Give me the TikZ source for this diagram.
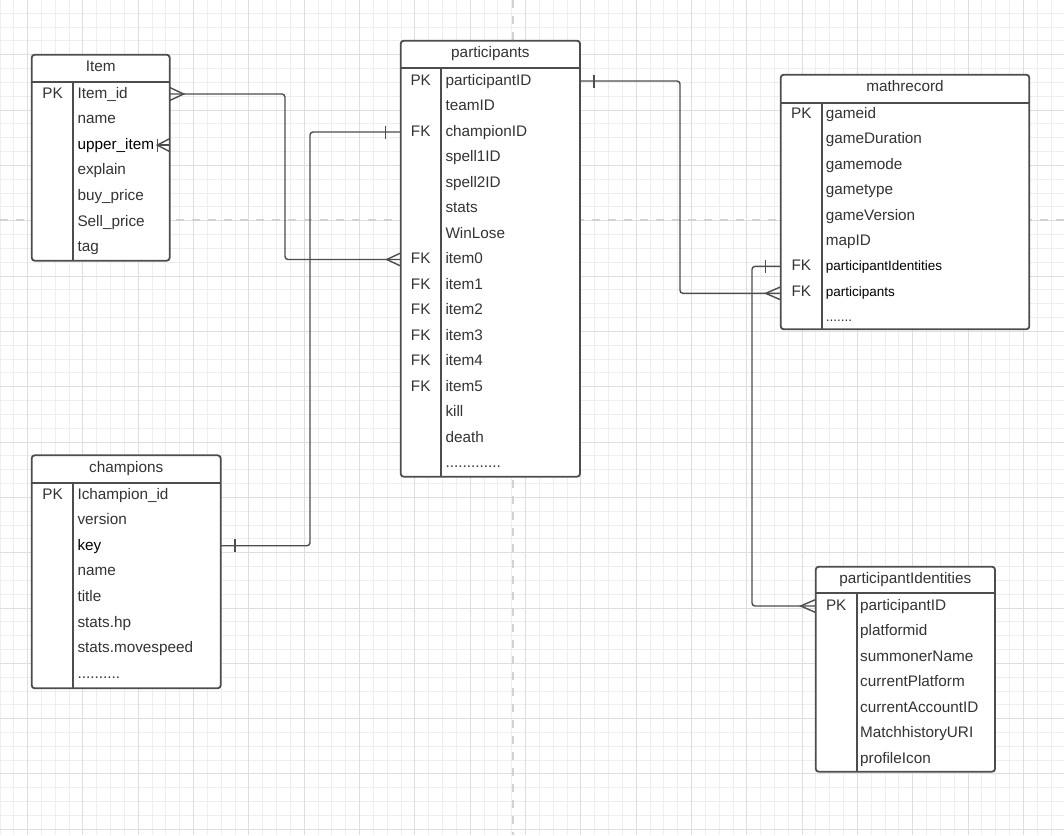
\documentclass[tikz,border=0pt]{standalone}
\usepackage{fontspec}
\setmainfont{Liberation Sans}
\definecolor{gridminor}{HTML}{EEEEEE}
\definecolor{gridmajor}{HTML}{DEDEDE}
\definecolor{pagebrk}{HTML}{D2D2D2}
\definecolor{linec}{HTML}{4D4D4D}
\definecolor{txtc}{HTML}{333333}
\tikzset{
  tbl/.style={draw=linec, line width=1.8pt, rounded corners=3pt, fill=white, outer sep=0pt, inner sep=0pt, anchor=north west},
  sepline/.style={draw=linec, line width=1.8pt},
  ttl/.style={font=\fontsize{15.3}{18}\selectfont, text=txtc, anchor=base, inner sep=0pt},
  fld/.style={font=\fontsize{15.3}{18}\selectfont, text=txtc, anchor=base west, inner sep=0pt},
  smallfld/.style={font=\fontsize{13.5}{16}\selectfont, text=black, anchor=base west, inner sep=0pt},
  keyt/.style={font=\fontsize{15.3}{18}\selectfont, text=txtc, anchor=base, inner sep=0pt},
  conn/.style={draw=linec, line width=1.4pt, rounded corners=3pt},
  cf/.style={draw=linec, line width=1.4pt},
}
\newcommand{\ertable}[8]{% name, L, T, R, H, B, D, title
  \node[tbl, minimum width=#4-#2, minimum height=#6-#3] (#1) at (#2,#3) {};
  \draw[sepline] (#2,#5) -- (#4,#5);
  \draw[sepline] (#7,#5) -- (#7,#6);
  \node[ttl] (#1-title) at ({(#2+#4)/2},#3+17) {#8};
}
\newcommand{\dotsPart}{.............}
\newcommand{\dotsChamp}{..........}
\newcommand{\dotsMath}{.......}
\begin{document}
\begin{tikzpicture}[x=1pt,y=-1pt]
\useasboundingbox (0,0) rectangle (1064,835);
\fill[white] (0,0) rectangle (1064,835);
% grid
\foreach \i in {0,...,77} { \draw[gridminor, line width=1pt] (\i*13.83,0) -- (\i*13.83,835); }
\foreach \j in {0,...,61} { \draw[gridminor, line width=1pt] (0,-0.5+\j*13.83) -- (1064,-0.5+\j*13.83); }
\foreach \i in {2,6,...,78} { \draw[gridmajor, line width=1pt] (\i*13.83,0) -- (\i*13.83,835); }
\foreach \j in {0,4,...,60} { \draw[gridmajor, line width=1pt] (0,-0.5+\j*13.83) -- (1064,-0.5+\j*13.83); }
% page breaks
\draw[pagebrk, line width=2pt, dash pattern=on 8pt off 8pt] (513.3,0) -- (513.3,835);
\draw[pagebrk, line width=2pt, dash pattern=on 8pt off 8pt] (0,220) -- (1064,220);

% ---- Item
\ertable{item}{31.7}{54.7}{169.7}{82.3}{260.7}{73.3}{Item}
\foreach \k/\t [count=\i from 0] in {PK/Item\_id, {}/name, {}/{\color{black}upper\_item}, {}/explain, {}/buy\_price, {}/Sell\_price, {}/tag}
{ \node[keyt] (item-k\i) at (52.5, 98.3+\i*25.55) {\k};
  \node[fld] (item-f\i) at (77.3, 98.3+\i*25.55) {\t};
  \coordinate (item-c\i) at (100, 94+\i*25.55); }

% ---- participants
\ertable{part}{400.7}{40.7}{580}{68}{476.7}{441.3}{participants}
\foreach \k/\t [count=\i from 0] in {PK/participantID, {}/teamID, FK/championID, {}/spell1ID, {}/spell2ID, {}/stats, {}/WinLose, FK/item0, FK/item1, FK/item2, FK/item3, FK/item4, FK/item5, {}/kill, {}/death, {}/\dotsPart}
{ \node[keyt] (part-k\i) at (420.7, 85+\i*25.5) {\k};
  \node[fld] (part-f\i) at (445.3, 85+\i*25.5) {\t};
  \coordinate (part-c\i) at (490, 81+\i*25.5); }

% ---- mathrecord
\ertable{math}{780.7}{74.7}{1029.3}{102.7}{329.3}{822}{mathrecord}
\foreach \k/\t [count=\i from 0] in {PK/gameid, {}/gameDuration, {}/gamemode, {}/gametype, {}/gameVersion, {}/mapID}
{ \node[keyt] (math-k\i) at (801.3, 118.2+\i*25.45) {\k};
  \node[fld] (math-f\i) at (825.7, 118.2+\i*25.45) {\t}; }
\node[keyt] (math-k6) at (801.3, 118.2+6*25.45) {FK};
\node[smallfld] (math-f6) at (825.7, 118.2+6*25.45) {participantIdentities};
\coordinate (math-c6) at (900, 113.7+6*25.45);
\node[keyt] (math-k7) at (801.3, 118.2+7*25.45) {FK};
\node[smallfld] (math-f7) at (825.7, 118.2+7*25.45) {participants};
\coordinate (math-c7) at (900, 115.2+7*25.45);
\node[smallfld, text=txtc] (math-f8) at (825.7, 118.2+8*25.45) {\dotsMath};

% ---- champions
\ertable{champ}{31.7}{455.3}{220.7}{483}{688.3}{73.3}{champions}
\foreach \k/\t [count=\i from 0] in {PK/Ichampion\_id, {}/version, {}/{\color{black}key}, {}/name, {}/title, {}/stats.hp, {}/stats.movespeed, {}/\dotsChamp}
{ \node[keyt] (champ-k\i) at (52.5, 499+\i*25.6) {\k};
  \node[fld] (champ-f\i) at (77.3, 499+\i*25.6) {\t};
  \coordinate (champ-c\i) at (100, 494.5+\i*25.6); }

% ---- participantIdentities
\ertable{pid}{815.7}{566.7}{995}{593.3}{771.7}{856.7}{participantIdentities}
\foreach \k/\t [count=\i from 0] in {PK/participantID, {}/platformid, {}/summonerName, {}/currentPlatform, {}/currentAccountID, {}/MatchhistoryURI, {}/profileIcon}
{ \node[keyt] (pid-k\i) at (836.2, 610+\i*25.5) {\k};
  \node[fld] (pid-f\i) at (860, 610+\i*25.5) {\t};
  \coordinate (pid-c\i) at (900, 606+\i*25.5); }

% ---- connector junctions
\coordinate (j1) at (285,0);
\coordinate (j2) at (310,0);
\coordinate (j3) at (680,0);
\coordinate (j4) at (752,0);

% Item.Item_id  >----<  participants.item0
\draw[conn] (item.east |- item-c0) -| (j1 |- part-c7) -- (part.west |- part-c7);
\draw[cf] (item.east |- item-c0) ++(0,-6.5) -- ++(14,6.5) -- ++(-14,6.5);
\draw[cf] (part.west |- part-c7) ++(0,-6.5) -- ++(-14,6.5) -- ++(14,6.5);

% upper_item self reference marks
\draw[cf] (item.east |- item-c2) ++(-12.4,-6.5) -- ++(0,13);
\draw[cf] (item.east |- item-c2) ++(0,-6.5) -- ++(-12.4,6.5) -- ++(12.4,6.5);
\draw[cf] (item.east |- item-c2) -- ++(-12.4,0);

% champions.key  |----|  participants.championID
\draw[conn] (champ.east |- champ-c2) -| (j2 |- part-c2) -- (part.west |- part-c2);
\draw[cf] (champ.east |- champ-c2) ++(14.3,-6.5) -- ++(0,13);
\draw[cf] (part.west |- part-c2) ++(-15.5,-6.5) -- ++(0,13);

% participants.participantID  |----<  mathrecord.participants
\draw[conn] (part.east |- part-c0) -| (j3 |- math-c7) -- (math.west |- math-c7);
\draw[cf] (part.east |- part-c0) ++(14,-6.5) -- ++(0,13);
\draw[cf] (math.west |- math-c7) ++(0,-6.5) -- ++(-15,6.5) -- ++(15,6.5);

% mathrecord.participantIdentities  |----<  participantIdentities.participantID
\draw[conn] (math.west |- math-c6) -| (j4 |- pid-c0) -- (pid.west |- pid-c0);
\draw[cf] (math.west |- math-c6) ++(-15,-6.5) -- ++(0,13);
\draw[cf] (pid.west |- pid-c0) ++(0,-6.5) -- ++(-15,6.5) -- ++(15,6.5);
\end{tikzpicture}
\end{document}
